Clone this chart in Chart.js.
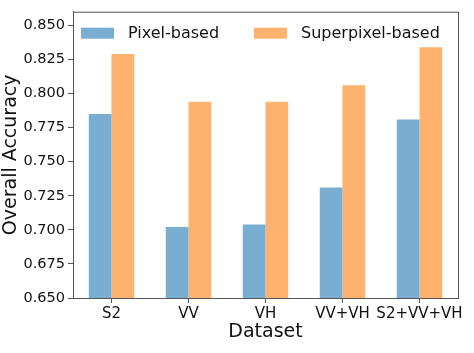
<!DOCTYPE html>
<html>
<head>
<meta charset="utf-8">
<script src="https://cdn.jsdelivr.net/npm/chart.js@4"></script>
<style>
  html, body { margin: 0; padding: 0; background: #fff; }
  #wrap { width: 474px; height: 353px; }
</style>
</head>
<body>
<div id="wrap"><canvas id="accChart"></canvas></div>
<script>
// --- DATA ---
const datasetNames = ['S2', 'VV', 'VH', 'VV+VH', 'S2+VV+VH'];
const pixelAcc = [0.785, 0.702, 0.704, 0.731, 0.781];
const superpixelAcc = [0.829, 0.794, 0.794, 0.806, 0.834];
const yTicks = [0.650, 0.675, 0.700, 0.725, 0.750, 0.775, 0.800, 0.825, 0.850];

const FONT = "'DejaVu Sans', sans-serif";

// box around the plot plus a legend inside the top of it
const framePlugin = {
    id: 'frame',
    afterDraw(chart) {
        const ctx = chart.ctx;
        const a = chart.chartArea;
        ctx.save();
        ctx.strokeStyle = '#555';
        ctx.lineWidth = 1;
        ctx.strokeRect(a.left + 0.5, a.top + 0.5, a.right - a.left, a.bottom - a.top);

        const boxX = [a.left + 8, a.left + 181];
        ctx.font = '16px ' + FONT;
        ctx.textBaseline = 'middle';
        chart.data.datasets.forEach((ds, i) => {
            ctx.fillStyle = ds.backgroundColor;
            ctx.fillRect(boxX[i], a.top + 16, 33, 11);
            ctx.fillStyle = '#111';
            ctx.fillText(ds.label, boxX[i] + 47, a.top + 22);
        });
        ctx.restore();
    }
};

const ctx = document.getElementById('accChart').getContext('2d');
new Chart(ctx, {
    type: 'bar',
    data: {
        labels: datasetNames,
        datasets: [{
            label: 'Pixel-based',
            data: pixelAcc,
            backgroundColor: 'rgb(121, 173, 210)',
            barPercentage: 1,
            categoryPercentage: 0.59
        }, {
            label: 'Superpixel-based',
            data: superpixelAcc,
            backgroundColor: 'rgb(255, 178, 110)',
            barPercentage: 1,
            categoryPercentage: 0.59
        }]
    },
    options: {
        responsive: true,
        maintainAspectRatio: false,
        animation: false,
        layout: { padding: { top: 7, right: 16, left: 0, bottom: 10 } },
        plugins: {
            legend: { display: false },
            tooltip: { enabled: false }
        },
        scales: {
            x: {
                offset: true,
                grid: { display: true, drawOnChartArea: false, offset: false, tickLength: 5, color: '#555' },
                border: { display: true, color: '#555' },
                ticks: { color: '#111', font: { family: FONT, size: 15 }, padding: 2, maxRotation: 0, autoSkip: false },
                title: { display: true, text: 'Dataset', color: '#111', font: { family: FONT, size: 19 }, padding: { top: 0, bottom: 0 } },
                afterFit(scale) { scale.height = 45; }
            },
            y: {
                min: 0.65,
                max: 0.86,
                grid: { display: true, drawOnChartArea: false, tickLength: 5, color: '#555' },
                border: { display: true, color: '#555' },
                ticks: {
                    color: '#111',
                    font: { family: FONT, size: 14.5 },
                    padding: 3,
                    callback: v => v.toFixed(3)
                },
                afterBuildTicks(scale) { scale.ticks = yTicks.map(v => ({ value: v })); },
                title: { display: true, text: 'Overall Accuracy', color: '#111', font: { family: FONT, size: 19 }, padding: { top: 0, bottom: 4 } },
                afterFit(scale) { scale.width = 73; }
            }
        }
    },
    plugins: [framePlugin]
});
</script>
</body>
</html>
